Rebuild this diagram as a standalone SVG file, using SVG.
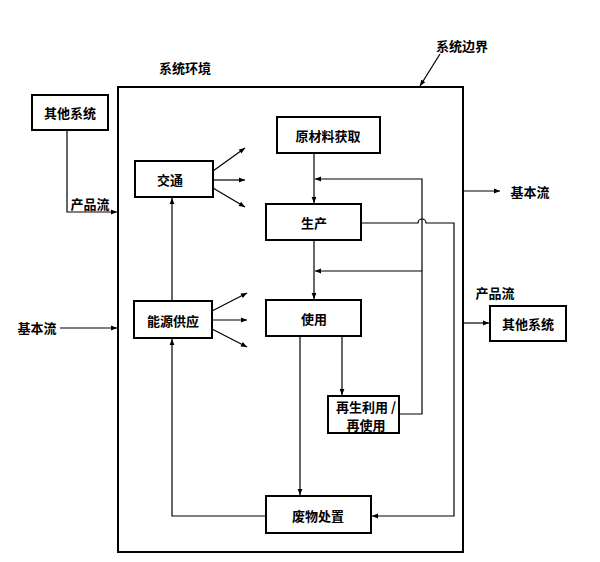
<svg xmlns="http://www.w3.org/2000/svg" width="600" height="562" viewBox="0 0 600 562">
<style>
.b{fill:#fff;stroke:#000;stroke-width:2}
.l{fill:none;stroke:#000;stroke-width:1.2}
text{font-family:"Noto Sans CJK SC",sans-serif;font-size:13px;font-weight:bold;text-anchor:middle;dominant-baseline:central}
</style>
<defs><marker id="a" viewBox="0 0 10 10" refX="10" refY="5" markerWidth="8" markerHeight="6" orient="auto" markerUnits="userSpaceOnUse"><path d="M0,1L10,5L0,9z"/></marker></defs>
<rect x="118" y="87" width="345" height="465" fill="none" stroke="#000" stroke-width="2"/>
<text x="185" y="67">系统环境</text>
<text x="462" y="45">系统边界</text>
<text x="90" y="203">产品流</text>
<text x="37" y="327">基本流</text>
<text x="530" y="191">基本流</text>
<text x="495" y="292">产品流</text>
<g id="connectors" class="l" marker-end="url(#a)">
<path d="M440,54L420,86"/>
<path d="M67,130V212H117"/>
<path d="M60,328H117"/>
<path d="M464,191H500"/>
<path d="M464,323H489"/>
<path d="M314,153V203"/>
<path d="M314,240V299"/>
<path d="M342,336V395"/>
<path d="M300,336V495"/>
<path d="M399,414H422V179H315"/>
<path d="M422,271H315"/>
<path d="M361,223H418A4,4 0 0 1 426,223H454V516H372"/>
<path d="M266,516H172V339"/>
<path d="M172,301V198"/>
<path d="M213,171L245,148"/><path d="M213,180H245"/><path d="M213,188L245,207"/>
<path d="M212,311L247,293"/><path d="M212,320H247"/><path d="M212,329L247,347"/>
</g>
<g id="n1"><rect class="b" x="32" y="95" width="76" height="35"/><text x="70" y="112">其他系统</text></g>
<g id="n2"><rect class="b" x="490" y="306" width="76" height="35"/><text x="528" y="323">其他系统</text></g>
<g id="n3"><rect class="b" x="277" y="117" width="103" height="36"/><text x="328" y="135">原材料获取</text></g>
<g id="n4"><rect class="b" x="135" y="161" width="78" height="36"/><text x="170" y="179">交通</text></g>
<g id="n5"><rect class="b" x="266" y="204" width="95" height="36"/><text x="314" y="222">生产</text></g>
<g id="n6"><rect class="b" x="134" y="301" width="78" height="37"/><text x="173" y="320">能源供应</text></g>
<g id="n7"><rect class="b" x="266" y="300" width="95" height="36"/><text x="314" y="318">使用</text></g>
<g id="n8"><rect class="b" x="328" y="396" width="71" height="37"/><text x="366" y="406">再生利用 /</text><text x="366" y="424">再使用</text></g>
<g id="n9"><rect class="b" x="266" y="496" width="105" height="37"/><text x="318" y="515">废物处置</text></g>
</svg>
